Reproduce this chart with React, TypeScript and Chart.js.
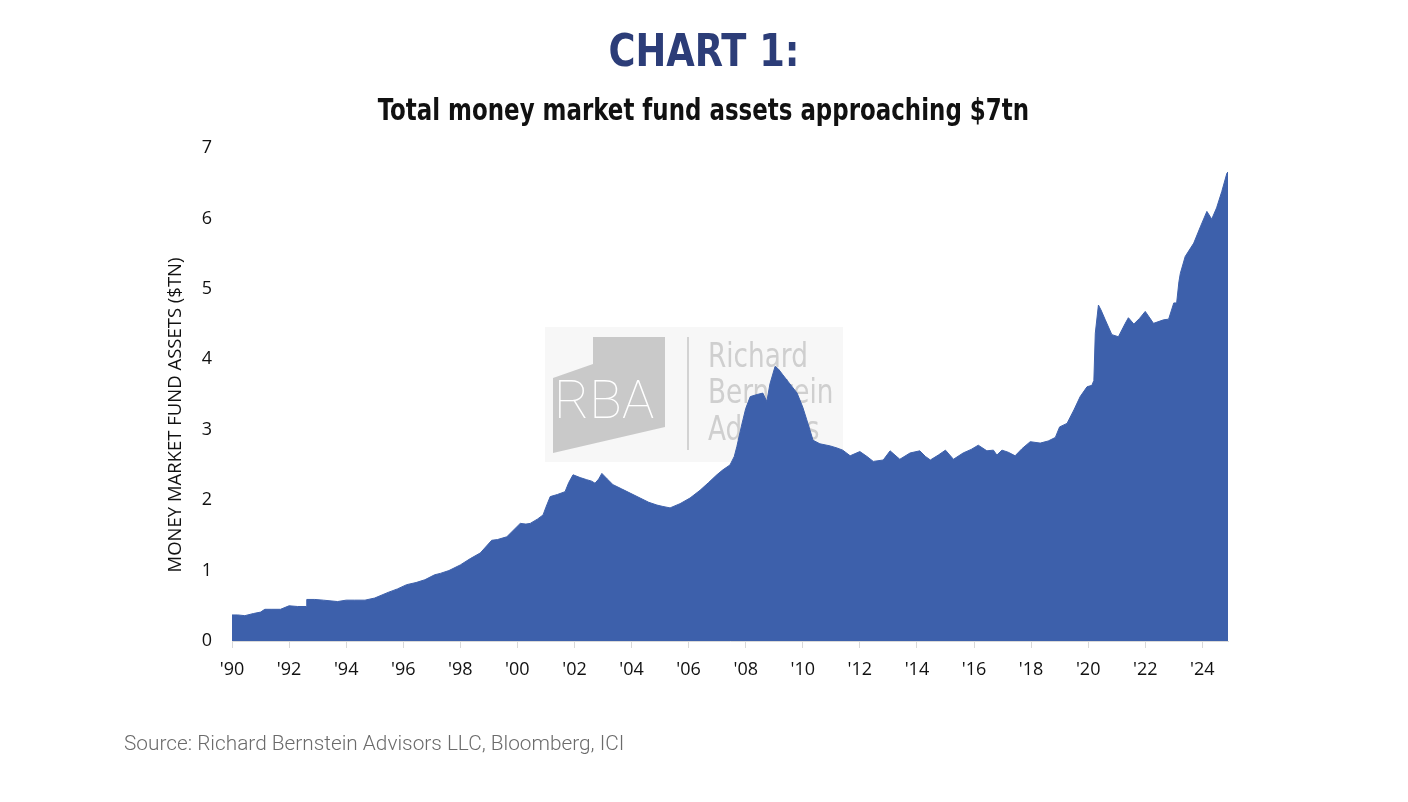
import React, { useEffect, useRef } from "react";
import { Chart, registerables } from "chart.js";

Chart.register(...registerables);

// Time (decimal years) and total money market fund assets ($tn)
const years = [
  1990.0, 1990.2, 1990.45, 1990.75, 1991.0, 1991.15, 1991.4, 1991.7, 1992.0, 1992.3,
  1992.6, 1992.62, 1992.9, 1993.2, 1993.7, 1994.0, 1994.3, 1994.66, 1995.0, 1995.47,
  1995.8, 1996.12, 1996.45, 1996.76, 1997.1, 1997.3, 1997.6, 1998.0, 1998.35, 1998.7,
  1999.1, 1999.3, 1999.63, 2000.1, 2000.3, 2000.45, 2000.7, 2000.9, 2001.0, 2001.15,
  2001.4, 2001.67, 2001.8, 2001.95, 2002.2, 2002.43, 2002.6, 2002.72, 2002.85, 2002.96,
  2003.15, 2003.35, 2003.65, 2003.95, 2004.3, 2004.6, 2004.89, 2005.1, 2005.35, 2005.7,
  2006.05, 2006.4, 2006.7, 2006.99, 2007.2, 2007.45, 2007.6, 2007.69, 2007.85, 2008.0,
  2008.16, 2008.4, 2008.6, 2008.74, 2008.85, 2009.03, 2009.15, 2009.3, 2009.55, 2009.8,
  2010.0, 2010.14, 2010.36, 2010.6, 2010.96, 2011.2, 2011.4, 2011.66, 2012.0, 2012.25,
  2012.47, 2012.82, 2013.06, 2013.4, 2013.76, 2014.1, 2014.3, 2014.47, 2014.75, 2015.0,
  2015.28, 2015.62, 2015.9, 2016.15, 2016.45, 2016.68, 2016.8, 2016.98, 2017.2, 2017.44,
  2017.68, 2017.97, 2018.32, 2018.6, 2018.85, 2019.0, 2019.26, 2019.5, 2019.72, 2019.96,
  2020.13, 2020.2, 2020.25, 2020.36, 2020.45, 2020.6, 2020.83, 2021.06, 2021.3, 2021.41,
  2021.6, 2021.8, 2022.0, 2022.29, 2022.64, 2022.82, 2023.0, 2023.1, 2023.18, 2023.23,
  2023.4, 2023.7, 2023.93, 2024.16, 2024.33, 2024.5, 2024.68, 2024.86, 2024.9,
];

const assets = [
  0.37, 0.37, 0.36, 0.39, 0.41, 0.45, 0.45, 0.45, 0.5, 0.49,
  0.49, 0.59, 0.59, 0.58, 0.56, 0.58, 0.58, 0.58, 0.61, 0.69,
  0.74, 0.8, 0.83, 0.87, 0.94, 0.96, 1.0, 1.08, 1.17, 1.25,
  1.43, 1.44, 1.48, 1.67, 1.66, 1.67, 1.73, 1.79, 1.9, 2.05,
  2.08, 2.12, 2.25, 2.36, 2.32, 2.29, 2.27, 2.24, 2.3, 2.38,
  2.3, 2.22, 2.16, 2.1, 2.03, 1.97, 1.93, 1.91, 1.89, 1.95,
  2.03, 2.14, 2.25, 2.36, 2.43, 2.5, 2.62, 2.76, 3.05, 3.3,
  3.47, 3.5, 3.52, 3.4, 3.65, 3.9, 3.86, 3.78, 3.65, 3.52,
  3.32, 3.14, 2.85, 2.8, 2.77, 2.74, 2.71, 2.63, 2.69, 2.62,
  2.55, 2.57, 2.7, 2.58, 2.67, 2.7, 2.62, 2.57, 2.64, 2.71,
  2.58, 2.67, 2.72, 2.78, 2.7, 2.71, 2.64, 2.71, 2.68, 2.63,
  2.73, 2.83, 2.81, 2.84, 2.89, 3.04, 3.09, 3.28, 3.47, 3.61,
  3.63, 3.7, 4.37, 4.77, 4.7, 4.56, 4.35, 4.32, 4.51, 4.59,
  4.5, 4.58, 4.68, 4.51, 4.56, 4.57, 4.8, 4.8, 5.1, 5.22,
  5.46, 5.65, 5.88, 6.1, 5.99, 6.15, 6.38, 6.64, 6.66,
];

const xTickYears = [
  1990, 1992, 1994, 1996, 1998, 2000, 2002, 2004, 2006, 2008,
  2010, 2012, 2014, 2016, 2018, 2020, 2022, 2024,
];
const yTickValues = [0, 1, 2, 3, 4, 5, 6, 7];

const TITLE = "CHART 1:";
const SUBTITLE = "Total money market fund assets approaching $7tn";
const Y_TITLE = "MONEY MARKET FUND ASSETS ($TN)";
const SOURCE = "Source: Richard Bernstein Advisors LLC, Bloomberg, ICI";

const AREA_COLOR = "#3d60ab";
const NARROW = '"Liberation Sans Narrow", "DejaVu Sans Condensed", "Arial Narrow", sans-serif';

export default function App() {
  const canvasRef = useRef<HTMLCanvasElement>(null);

  useEffect(() => {
    const canvas = canvasRef.current;
    if (!canvas) return;

    const watermark = {
      id: "watermark",
      beforeDatasetsDraw(chart: any) {
        const ctx = chart.ctx as CanvasRenderingContext2D;
        const a = chart.chartArea;
        const ox = a.left;
        const oy = a.top;
        ctx.save();
        ctx.fillStyle = "#f7f7f7";
        ctx.fillRect(ox + 313, oy + 179, 298, 135);
        ctx.fillStyle = "#c9c9c9";
        ctx.beginPath();
        ctx.moveTo(ox + 361, oy + 189);
        ctx.lineTo(ox + 433, oy + 189);
        ctx.lineTo(ox + 433, oy + 279);
        ctx.lineTo(ox + 321, oy + 305);
        ctx.lineTo(ox + 321, oy + 230);
        ctx.lineTo(ox + 361, oy + 216);
        ctx.closePath();
        ctx.fill();
        ctx.fillStyle = "#ffffff";
        ctx.font = "100 54px Roboto";
        ctx.textBaseline = "alphabetic";
        ctx.textAlign = "left";
        ctx.fillText("RBA", ox + 322, oy + 270);
        ctx.strokeStyle = "#d3d3d3";
        ctx.lineWidth = 2;
        ctx.beginPath();
        ctx.moveTo(ox + 456, oy + 189);
        ctx.lineTo(ox + 456, oy + 302);
        ctx.stroke();
        ctx.fillStyle = "#cfcfcf";
        ctx.font = "34px " + NARROW;
        ctx.translate(ox + 476, 0);
        ctx.scale(0.86, 1);
        ctx.fillText("Richard", 0, oy + 219);
        ctx.fillText("Bernstein", 0, oy + 255);
        ctx.fillText("Advisors", 0, oy + 292);
        ctx.restore();
      },
    };

    const yTitle = {
      id: "yTitle",
      afterDraw(chart: any) {
        const ctx = chart.ctx as CanvasRenderingContext2D;
        const a = chart.chartArea;
        ctx.save();
        ctx.translate(a.left - 56, a.bottom - 226);
        ctx.rotate(-Math.PI / 2);
        ctx.fillStyle = "#111111";
        ctx.font = '18.5px "Open Sans", sans-serif';
        ctx.textAlign = "center";
        ctx.textBaseline = "middle";
        ctx.fillText(Y_TITLE, 0, 0);
        ctx.restore();
      },
    };

    const chart = new Chart(canvas, {
      type: "line",
      data: {
        datasets: [
          {
            data: years.map((x, i) => ({ x, y: assets[i] })),
            fill: "origin",
            backgroundColor: AREA_COLOR,
            borderColor: AREA_COLOR,
            borderWidth: 1,
            pointRadius: 0,
            tension: 0,
          },
        ],
      },
      options: {
        responsive: false,
        animation: false,
        events: [],
        layout: { padding: { left: 150, right: 180, top: 148, bottom: 111 } },
        plugins: { legend: { display: false }, tooltip: { enabled: false } },
        scales: {
          x: {
            type: "linear",
            min: 1990,
            max: 2024.9,
            afterBuildTicks: (s: any) => {
              s.ticks = xTickYears.map((v) => ({ value: v }));
            },
            afterFit: (s: any) => {
              s.height = 50;
            },
            grid: { drawOnChartArea: false, drawTicks: true, tickLength: 7, color: "#d9d9d9" },
            border: { display: true, color: "#d9d9d9" },
            ticks: {
              padding: 11,
              color: "#111111",
              font: { family: '"Open Sans", sans-serif', size: 18 },
              maxRotation: 0,
              autoSkip: false,
              callback: (v: any) => "'" + String(v).slice(2),
            },
          },
          y: {
            min: 0,
            max: 7,
            afterBuildTicks: (s: any) => {
              s.ticks = yTickValues.map((v) => ({ value: v }));
            },
            afterFit: (s: any) => {
              s.width = 82;
            },
            grid: { display: false, drawTicks: false },
            border: { display: false },
            ticks: {
              padding: 20,
              color: "#111111",
              font: { family: '"Open Sans", sans-serif', size: 18 },
            },
          },
        },
      },
      plugins: [watermark, yTitle],
    });

    return () => chart.destroy();
  }, []);

  return (
    <div
      style={{
        position: "fixed",
        left: 0,
        top: 0,
        width: 1408,
        height: 802,
        background: "#ffffff",
        overflow: "hidden",
      }}
    >
      <canvas
        ref={canvasRef}
        width={1408}
        height={802}
        style={{ position: "absolute", left: 0, top: 0, width: 1408, height: 802, display: "block" }}
      />
      <div
        style={{
          position: "absolute",
          left: 0,
          width: 1408,
          top: 29,
          textAlign: "center",
          fontFamily: NARROW,
          fontWeight: 700,
          fontSize: 44,
          lineHeight: "44px",
          color: "#2c3d78",
          whiteSpace: "nowrap",
          transform: "scaleX(0.93)",
          transformOrigin: "704px 0",
        }}
      >
        {TITLE}
      </div>
      <div
        style={{
          position: "absolute",
          left: 0,
          width: 1408,
          top: 95,
          textAlign: "center",
          fontFamily: NARROW,
          fontWeight: 700,
          fontSize: 30,
          lineHeight: "30px",
          color: "#111111",
          whiteSpace: "nowrap",
          transform: "scaleX(0.85)",
          transformOrigin: "700px 0",
        }}
      >
        {SUBTITLE}
      </div>
      <div
        style={{
          position: "absolute",
          left: 124,
          top: 734,
          fontFamily: "Roboto, sans-serif",
          fontWeight: 300,
          fontSize: 20.8,
          lineHeight: "19px",
          color: "#6b6b6b",
          whiteSpace: "nowrap",
        }}
      >
        {SOURCE}
      </div>
    </div>
  );
}
